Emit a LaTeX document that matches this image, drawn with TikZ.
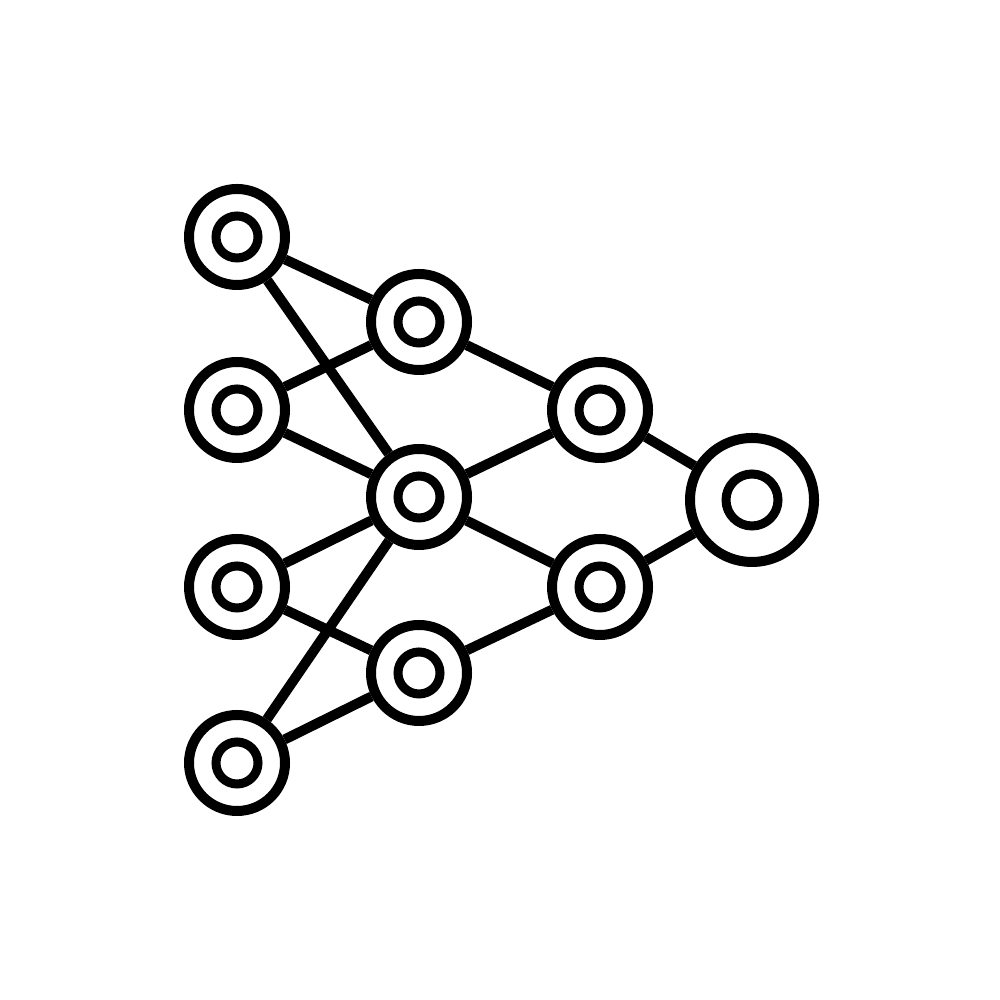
\documentclass[tikz,border=0pt]{standalone}
\usepackage{tikz}
\usetikzlibrary{positioning}

\begin{document}
\begin{tikzpicture}[
    x=1cm, y=1cm,
    unit/.style={draw, circle, fill=white, line width=0.1cm, minimum size=0.96cm, inner sep=0pt,
        path picture={\draw[line width=0.09cm] (path picture bounding box.center) circle (0.21cm);}},
    outunit/.style={draw, circle, fill=white, line width=0.1cm, minimum size=1.24cm, inner sep=0pt,
        path picture={\draw[line width=0.09cm] (path picture bounding box.center) circle (0.26cm);}},
    link/.style={line width=0.1cm}
]
\useasboundingbox (0,0) rectangle (10,10);

% input layer
\node[unit] (in1) at (2.37,7.63) {};
\node[unit] (in2) at (2.37,5.90) {};
\node[unit] (in3) at (2.37,4.13) {};
\node[unit] (in4) at (2.37,2.37) {};

% first hidden layer
\node[unit] (hA) at (4.19,6.78) {};
\node[unit] (hB) at (4.19,5.03) {};
\node[unit] (hC) at (4.19,3.27) {};

% second hidden layer
\node[unit] (hD) at (6.00,5.90) {};
\node[unit] (hE) at (6.00,4.13) {};

% output
\node[outunit] (outp) at (7.52,5.00) {};

\draw[link] (in1) -- (hA);
\draw[link] (in1) -- (hB);
\draw[link] (in2) -- (hA);
\draw[link] (in2) -- (hB);
\draw[link] (in3) -- (hB);
\draw[link] (in3) -- (hC);
\draw[link] (in4) -- (hB);
\draw[link] (in4) -- (hC);
\draw[link] (hA) -- (hD);
\draw[link] (hB) -- (hD);
\draw[link] (hB) -- (hE);
\draw[link] (hC) -- (hE);
\draw[link] (hD) -- (outp);
\draw[link] (hE) -- (outp);
\end{tikzpicture}
\end{document}
